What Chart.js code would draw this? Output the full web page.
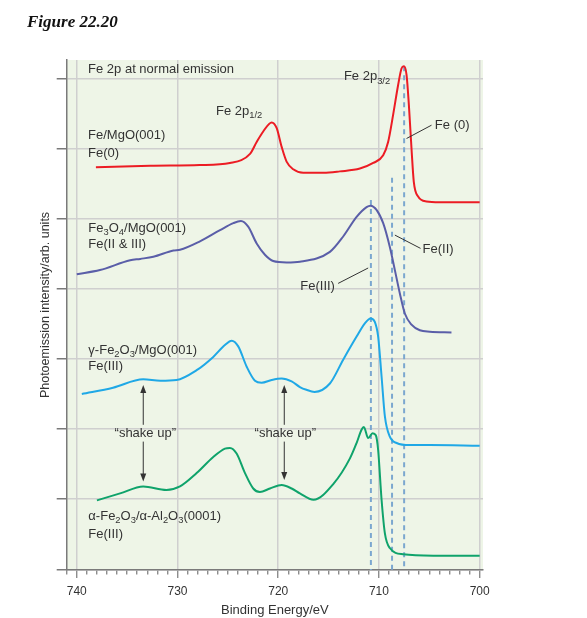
<!DOCTYPE html>
<html>
<head>
<meta charset="utf-8">
<script src="https://cdn.jsdelivr.net/npm/chart.js@4.4.1/dist/chart.umd.min.js"></script>
<style>
  body { margin: 0; background: #fff; }
  canvas { display: block; }
</style>
</head>
<body>
<canvas id="c" width="587" height="618"></canvas>
<script>
// binding energies (eV) and stacked intensities (arb. units, offset per spectrum)
const redEnergy = [738.1, 732.7, 727.8, 724.8, 722.8, 722.14, 721.49, 720.65, 720.16, 719.66, 719.17, 718.51, 717.52, 715.5, 713.88, 711.89, 710.57, 709.58, 709.09, 708.59, 708.10, 707.76, 707.53, 707.26, 707.03, 706.77, 706.54, 706.11, 705.28, 704.0, 700.0];
const redValues = [4.74, 4.76, 4.77, 4.80, 4.93, 5.10, 5.25, 5.38, 5.30, 5.03, 4.82, 4.71, 4.66, 4.66, 4.68, 4.72, 4.80, 4.91, 5.10, 5.49, 5.91, 6.15, 6.18, 6.06, 5.63, 5.01, 4.53, 4.32, 4.25, 4.24, 4.24];

const purpleEnergy = [740.0, 737.7, 734.7, 733.7, 732.4, 730.4, 729.75, 727.77, 725.78, 724.46, 723.70, 722.98, 722.14, 721.32, 720.50, 719.17, 717.85, 714.87, 713.55, 712.22, 711.23, 710.83, 710.24, 709.58, 708.92, 708.42, 707.93, 707.43, 706.77, 705.94, 704.95, 702.8];
const purpleValues = [3.21, 3.27, 3.41, 3.43, 3.46, 3.55, 3.56, 3.68, 3.84, 3.94, 3.97, 3.89, 3.65, 3.49, 3.40, 3.38, 3.39, 3.53, 3.75, 4.03, 4.17, 4.19, 4.13, 3.94, 3.60, 3.27, 2.94, 2.65, 2.49, 2.41, 2.39, 2.38];

const blueEnergy = [739.5, 736.4, 733.4, 731.7, 730.1, 728.10, 726.45, 725.29, 724.62, 723.97, 723.13, 722.31, 721.65, 720.65, 719.66, 718.67, 717.85, 717.2, 716.4, 714.87, 713.55, 712.22, 711.40, 710.83, 710.41, 710.08, 709.74, 709.41, 708.92, 708.25, 706.93, 704.95, 700.0];
const blueValues = [1.50, 1.59, 1.71, 1.69, 1.70, 1.84, 2.03, 2.20, 2.26, 2.18, 1.89, 1.69, 1.66, 1.70, 1.72, 1.68, 1.60, 1.56, 1.53, 1.65, 1.99, 2.32, 2.51, 2.58, 2.53, 2.32, 1.75, 1.18, 0.89, 0.80, 0.77, 0.77, 0.76];

const greenEnergy = [738.0, 735.7, 733.4, 731.1, 729.75, 728.10, 726.45, 725.29, 724.79, 724.13, 723.30, 722.48, 721.82, 720.82, 719.66, 718.67, 717.85, 716.5, 714.5, 712.88, 712.22, 711.73, 711.50, 711.07, 710.63, 710.31, 710.08, 709.74, 709.41, 708.92, 707.6, 704.6, 700.0];
const greenValues = [-0.02, 0.08, 0.18, 0.13, 0.18, 0.37, 0.60, 0.72, 0.73, 0.65, 0.37, 0.15, 0.10, 0.15, 0.20, 0.15, 0.08, -0.01, 0.22, 0.58, 0.80, 0.99, 1.03, 0.87, 0.94, 0.91, 0.70, -0.01, -0.49, -0.70, -0.79, -0.81, -0.81];

// reference lines: Fe(III), Fe(II), Fe(0)
const dashEnergy = [710.8, 708.7, 707.5];
const dashTop = [4.27, 4.59, 6.18];

const xMin = 699.67, xMax = 741.0;
const yMin = -1.014, yMax = 6.271;
const yTicks = [-1.014, 0, 1, 2, 3, 4, 5, 6];

const FONT = '"Liberation Sans", Arial, sans-serif';
const INK = '#333';

function pts(xs, ys) {
    return xs.map((x, i) => ({ x: x, y: ys[i] }));
}

function curve(xs, ys, color) {
    return {
        data: pts(xs, ys),
        borderColor: color,
        borderWidth: 2,
        pointRadius: 0,
        cubicInterpolationMode: "monotone",
        order: 0,
    };
}

let datasets = [
    curve(redEnergy, redValues, "#ec1c24"),
    curve(purpleEnergy, purpleValues, "#5a5ea8"),
    curve(blueEnergy, blueValues, "#1fa8e6"),
    curve(greenEnergy, greenValues, "#0fa36b"),
];
dashEnergy.forEach((e, i) => {
    datasets.push({
        data: [{ x: e, y: dashTop[i] }, { x: e, y: yMin }],
        borderColor: "#7ba7cf",
        borderWidth: 2,
        borderDash: [5, 4],
        pointRadius: 0,
        tension: 0,
        order: 5,
    });
});

// text labels; each part is [text] or [text, true] for a subscript
const labels = [
    { at: [738.88, 6.13], parts: [["Fe 2p at normal emission"]] },
    { at: [738.88, 5.19], parts: [["Fe/MgO(001)"]] },
    { at: [738.88, 4.94], parts: [["Fe(0)"]] },
    { at: [726.18, 5.54], parts: [["Fe 2p"], ["1/2", true]] },
    { at: [713.48, 6.03], parts: [["Fe 2p"], ["3/2", true]] },
    { at: [704.45, 5.34], parts: [["Fe (0)"]] },
    { at: [705.67, 3.56], parts: [["Fe(II)"]] },
    { at: [714.37, 3.03], parts: [["Fe(III)"]], right: true },
    { at: [738.85, 3.87], parts: [["Fe"], ["3", true], ["O"], ["4", true], ["/MgO(001)"]] },
    { at: [738.85, 3.63], parts: [["Fe(II & III)"]] },
    { at: [738.85, 2.12], parts: [["\u03b3-Fe"], ["2", true], ["O"], ["3", true], ["/MgO(001)"]] },
    { at: [738.85, 1.89], parts: [["Fe(III)"]] },
    { at: [738.85, -0.25], parts: [["\u03b1-Fe"], ["2", true], ["O"], ["3", true], ["/\u03b1-Al"], ["2", true], ["O"], ["3", true], ["(0001)"]] },
    { at: [738.85, -0.51], parts: [["Fe(III)"]] },
    { at: [733.2, 0.94], parts: [["\u201cshake up\u201d"]], center: true },
    { at: [719.3, 0.94], parts: [["\u201cshake up\u201d"]], center: true },
];

const leaders = [
    [[704.78, 5.34], [707.26, 5.15]],
    [[705.87, 3.58], [708.42, 3.77]],
    [[714.05, 3.08], [711.07, 3.30]],
];

// [x, from, to] arrows around the shake-up satellites
const arrows = [
    [733.4, 1.06, 1.63],
    [733.4, 0.82, 0.25],
    [719.4, 1.06, 1.63],
    [719.4, 0.82, 0.27],
];

function drawParts(ctx, parts, x, y, size, align) {
    let w = 0;
    parts.forEach(p => {
        ctx.font = (p[1] ? size * 0.72 : size) + "px " + FONT;
        w += ctx.measureText(p[0]).width;
    });
    let cx = align === "right" ? x - w : align === "center" ? x - w / 2 : x;
    ctx.textAlign = "left";
    ctx.textBaseline = "middle";
    parts.forEach(p => {
        ctx.font = (p[1] ? size * 0.72 : size) + "px " + FONT;
        ctx.fillText(p[0], cx, p[1] ? y + size * 0.32 : y);
        cx += ctx.measureText(p[0]).width;
    });
}

const backdrop = {
    id: "backdrop",
    beforeDraw(chart) {
        const { ctx, chartArea: a } = chart;
        ctx.save();
        ctx.fillStyle = "#eef5e7";
        ctx.fillRect(a.left, a.top, a.right - a.left, a.bottom - a.top);
        ctx.restore();
    },
};

const notes = {
    id: "notes",
    afterDatasetsDraw(chart) {
        const ctx = chart.ctx;
        const sx = chart.scales.x, sy = chart.scales.y;
        const px = v => sx.getPixelForValue(v);
        const py = v => sy.getPixelForValue(v);
        ctx.save();
        ctx.fillStyle = INK;
        labels.forEach(l => {
            drawParts(ctx, l.parts, px(l.at[0]), py(l.at[1]), 13,
                l.right ? "right" : l.center ? "center" : "left");
        });
        ctx.strokeStyle = INK;
        ctx.lineWidth = 1;
        leaders.forEach(s => {
            ctx.beginPath();
            ctx.moveTo(px(s[0][0]), py(s[0][1]));
            ctx.lineTo(px(s[1][0]), py(s[1][1]));
            ctx.stroke();
        });
        arrows.forEach(a => {
            const x = px(a[0]), y0 = py(a[1]), y1 = py(a[2]);
            const dir = y1 < y0 ? 1 : -1;
            ctx.beginPath();
            ctx.moveTo(x, y0);
            ctx.lineTo(x, y1 + dir * 4);
            ctx.stroke();
            ctx.beginPath();
            ctx.moveTo(x, y1);
            ctx.lineTo(x - 3, y1 + dir * 8);
            ctx.lineTo(x + 3, y1 + dir * 8);
            ctx.closePath();
            ctx.fill();
        });
        ctx.restore();
    },
    afterDraw(chart) {
        const ctx = chart.ctx;
        ctx.save();
        // y axis title, sits a little above the middle of the axis
        ctx.fillStyle = INK;
        ctx.font = "12.5px " + FONT;
        ctx.textAlign = "center";
        ctx.textBaseline = "middle";
        ctx.translate(45.5, 305);
        ctx.rotate(-Math.PI / 2);
        ctx.fillText("Photoemission intensity/arb. units", 0, 0);
        ctx.restore();

        ctx.save();
        ctx.fillStyle = "#111";
        ctx.font = 'italic bold 17px "Liberation Serif", "DejaVu Serif", serif';
        ctx.textBaseline = "middle";
        ctx.fillText("Figure 22.20", 27, 23);
        ctx.restore();
    },
};

new Chart(document.getElementById("c"), {
    type: "line",
    data: { datasets: datasets },
    options: {
        responsive: false,
        animation: false,
        layout: { padding: { top: 60, right: 104, left: 0, bottom: 0 } },
        plugins: { legend: { display: false }, tooltip: { enabled: false } },
        scales: {
            x: {
                type: "linear",
                reverse: true,
                min: xMin,
                max: xMax,
                afterFit: s => { s.height = 48; },
                border: { color: "#7a7a7a", width: 1.5 },
                grid: {
                    color: c => (c.tick && Math.round(c.tick.value) % 10 === 0 ? "#cfcfcf" : "rgba(0,0,0,0)"),
                    lineWidth: 1.5,
                    tickColor: "#7a7a7a",
                    tickLength: 8,
                    tickWidth: 1.2,
                    tickBorderDash: c => (c.tick && Math.round(c.tick.value) % 10 === 0 ? [] : [4, 40]),
                },
                ticks: {
                    stepSize: 1,
                    includeBounds: false,
                    autoSkip: false,
                    maxRotation: 0,
                    maxTicksLimit: 100,
                    padding: 6,
                    color: INK,
                    font: { family: FONT, size: 12 },
                    callback: v => (Math.round(v) % 10 === 0 ? String(Math.round(v)) : ""),
                },
                title: {
                    display: true,
                    text: "Binding Energy/eV",
                    color: INK,
                    font: { family: FONT, size: 13 },
                    padding: { top: 0, bottom: 0 },
                },
            },
            y: {
                type: "linear",
                min: yMin,
                max: yMax,
                afterFit: s => { s.width = 66.7; },
                afterBuildTicks: s => { s.ticks = yTicks.map(v => ({ value: v })); },
                border: { color: "#7a7a7a", width: 1.5 },
                grid: {
                    color: "#cfcfcf",
                    lineWidth: 1.5,
                    tickColor: "#7a7a7a",
                    tickLength: 10,
                    tickWidth: 1.5,
                },
                ticks: { display: false },
                title: { display: false },
            },
        },
    },
    plugins: [backdrop, notes],
});
</script>
</body>
</html>
